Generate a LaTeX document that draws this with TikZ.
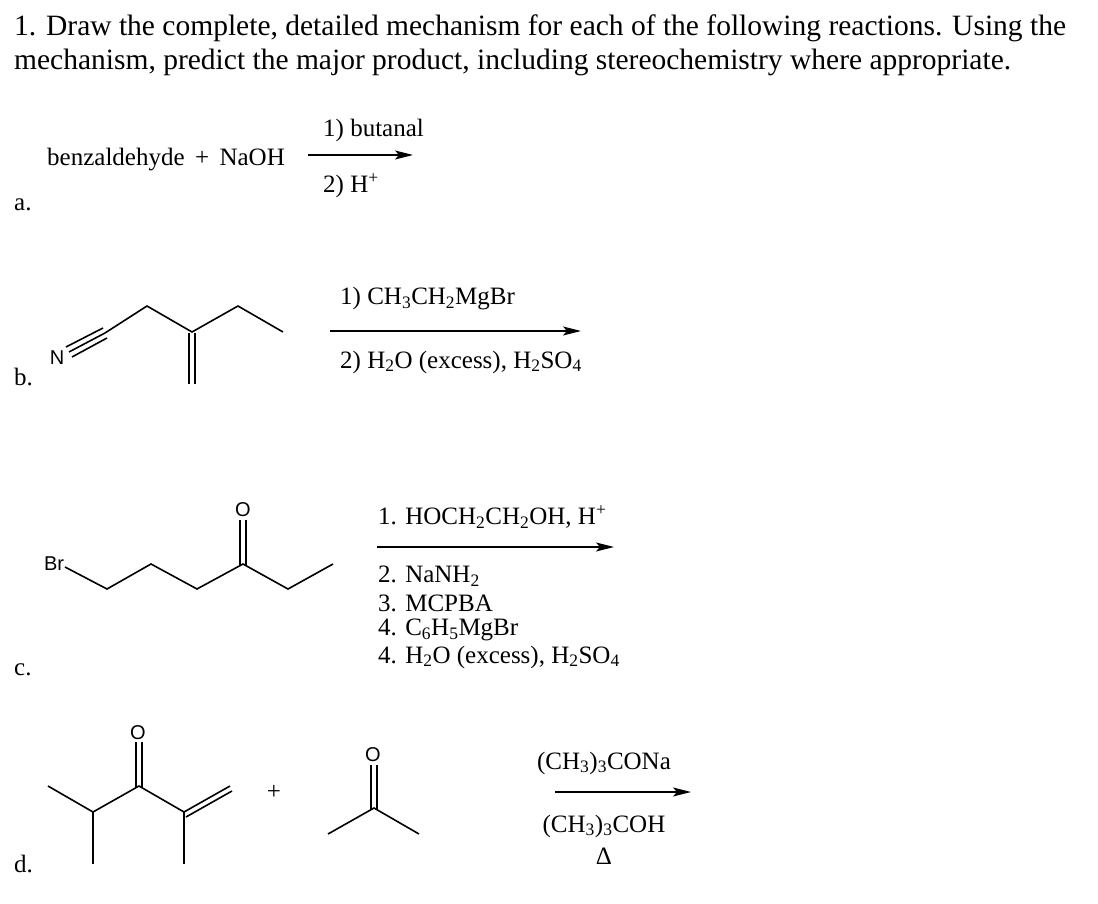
\documentclass[tikz,border=0pt]{standalone}
\usepackage{fontspec}
\setmainfont{Liberation Serif}
\newfontfamily\atomfont{Liberation Sans}
\usetikzlibrary{arrows.meta}
\newcommand{\sbs}[1]{\textsubscript{#1}}
\newcommand{\sps}[1]{\textsuperscript{#1}}
\begin{document}
\begin{tikzpicture}[x=1pt,y=-1pt,
  bond/.style={line width=1.6pt},
  rxn/.style={line width=1.5pt,-{Stealth[length=18pt,width=9pt,inset=4pt]}},
  txt/.style={inner sep=0pt,font=\fontsize{25}{28}\selectfont},
  sm/.style={inner sep=0pt,font=\atomfont\fontsize{20}{20}\selectfont}]
\useasboundingbox (0,0) rectangle (1098,904);
\node[txt,anchor=west,font=\fontsize{29.5}{32}\selectfont] (t1) at (14,28) {1. Draw the complete, detailed mechanism for each of the following reactions. Using the};
\node[txt,anchor=west,font=\fontsize{29.5}{32}\selectfont] (t2) at (14,62) {mechanism, predict the major product, including stereochemistry where appropriate.};
\node[txt,anchor=west] (la) at (14,205) {a.};
\node[txt,anchor=west] (lb) at (14,377) {b.};
\node[txt,anchor=west] (lc) at (14,670) {c.};
\node[txt,anchor=west] (ld) at (14,864) {d.};
% a
\node[txt,anchor=west] (ra) at (47,160) {benzaldehyde \,+\, NaOH};
\coordinate (a1) at (308,155); \coordinate (a2) at (413,155);
\draw[rxn] (a1) -- (a2);
\node[txt,anchor=west] (a3) at (323,130) {1) butanal};
\node[txt,anchor=west] (a4) at (323,186) {2) H\sps{+}};
% b
\node[sm] (N) at (57,358) {N};
\coordinate (b0) at (69,352); \coordinate (b1) at (105,333);
\draw[bond] (b0) -- (b1);
\draw[bond] (66,347) -- (103,328);
\draw[bond] (72,357) -- (107,338);
\coordinate (b2) at (147,306); \coordinate (b3) at (192,332);
\coordinate (b4) at (238,306); \coordinate (b5) at (283,332);
\draw[bond] (b1) -- (b2) -- (b3) -- (b4) -- (b5);
\draw[bond] (189,333) -- (189,384); \draw[bond] (195,333) -- (195,384);
\coordinate (b6) at (330,331); \coordinate (b7) at (581,331);
\draw[rxn] (b6) -- (b7);
\node[txt,anchor=west] (b8) at (340,299) {1) CH\sbs{3}CH\sbs{2}MgBr};
\node[txt,anchor=west] (b9) at (340,362) {2) H\sbs{2}O (excess), H\sbs{2}SO\sbs{4}};
% c
\node[sm] (Br) at (54,564) {Br};
\coordinate (c1) at (65,567); \coordinate (c2) at (107,589);
\coordinate (c3) at (151,564); \coordinate (c4) at (197,589);
\coordinate (c5) at (243,564); \coordinate (c6) at (288,589);
\coordinate (c7) at (333,564);
\draw[bond] (c1) -- (c2) -- (c3) -- (c4) -- (c5) -- (c6) -- (c7);
\draw[bond] (240,565) -- (240,520); \draw[bond] (246,565) -- (246,520);
\node[sm] (O1) at (243,510) {O};
\coordinate (c8) at (377,547); \coordinate (c9) at (614,547);
\draw[rxn] (c8) -- (c9);
\node[txt,anchor=west] (cc1) at (378,517) {1. HOCH\sbs{2}CH\sbs{2}OH, H\sps{+}};
\node[txt,anchor=west] (cc2) at (378,576) {2. NaNH\sbs{2}};
\node[txt,anchor=west] (cc3) at (378,603) {3. MCPBA};
\node[txt,anchor=west] (cc4) at (378,630) {4. C\sbs{6}H\sbs{5}MgBr};
\node[txt,anchor=west] (cc5) at (378,657) {4. H\sbs{2}O (excess), H\sbs{2}SO\sbs{4}};
% d
\coordinate (d1) at (48,786); \coordinate (d2) at (93,812);
\coordinate (d3) at (93,864); \coordinate (d4) at (139,786);
\coordinate (d5) at (184,812); \coordinate (d6) at (184,864);
\coordinate (d7) at (230,786);
\draw[bond] (d1) -- (d2) -- (d4) -- (d5);
\draw[bond] (d2) -- (d3); \draw[bond] (d5) -- (d6);
\draw[bond] (d5) -- (d7);
\draw[bond] (186,817) -- (232,791);
\draw[bond] (136,787) -- (136,742); \draw[bond] (142,787) -- (142,742);
\node[sm] (O2) at (138,733) {O};
\node[txt] (plus) at (274,792) {+};
\coordinate (e1) at (328,834); \coordinate (e2) at (374,808); \coordinate (e3) at (419,834);
\draw[bond] (e1) -- (e2) -- (e3);
\draw[bond] (371,809) -- (371,765); \draw[bond] (377,809) -- (377,765);
\node[sm] (O3) at (373,755) {O};
\coordinate (f1) at (555,792); \coordinate (f2) at (691,792);
\draw[rxn] (f1) -- (f2);
\node[txt] (f3) at (604,763) {(CH\sbs{3})\sbs{3}CONa};
\node[txt] (f4) at (604,826) {(CH\sbs{3})\sbs{3}COH};
\node[txt] (f5) at (604,856) {Δ};
\end{tikzpicture}
\end{document}
